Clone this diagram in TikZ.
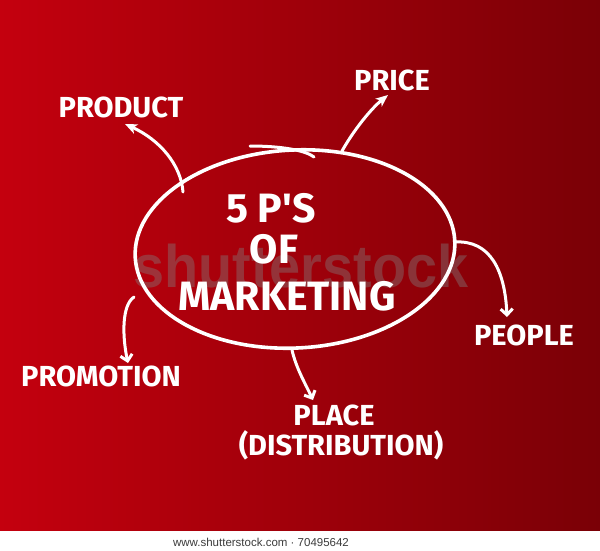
\documentclass[tikz,border=0pt]{standalone}
\usepackage{fontspec}
\setmainfont{Fira Sans}
\newfontfamily\wmfont{Liberation Sans}
\usetikzlibrary{arrows.meta}
\definecolor{redL}{RGB}{196,0,14}
\definecolor{redR}{RGB}{122,0,6}
\definecolor{foot}{RGB}{60,60,60}
\begin{document}
\begin{tikzpicture}[x=1pt,y=-1pt,
  lbl/.style={text=white, font=\bfseries\fontsize{29}{31}\selectfont, inner sep=0pt, anchor=base},
  big/.style={text=white, font=\bfseries\fontsize{41}{44}\selectfont, inner sep=0pt, anchor=base},
  stroke/.style={white, line width=3pt, line cap=round, line join=round},
  arr/.style={stroke, -{Straight Barb[length=6pt,width=12pt]}},
  arrf/.style={stroke, -{Stealth[length=12pt,width=10pt,inset=3pt]}}]
\useasboundingbox (0,0) rectangle (600,550);
\fill[white] (0,0) rectangle (600,550);
\shade[left color=redL, right color=redR] (0,0) rectangle (600,530);

% watermark
\node[inner sep=0pt, anchor=base, text=gray, opacity=0.4, font=\wmfont\bfseries\fontsize{60}{64}\selectfont, xscale=0.93] (wm) at (301,287) {shutterstock};

% central oval
\draw[stroke, line width=3.6pt, rotate around={3:(295,249)}] (295,249) ellipse [x radius=160, y radius=99];
\draw[stroke] (250,146) .. controls (280,146) and (305,150) .. (314,157);

\node[big] (t1) at (271,222) {5 P\textquotesingle S};
\node[big] (t2) at (274,263) {OF};
\node[big] (t3) at (287,310) {MARKETING};

% labels
\node[lbl] (product) at (121,117) {PRODUCT};
\node[lbl] (price) at (392,90) {PRICE};
\node[lbl] (people) at (524,345) {PEOPLE};
\node[lbl] (promotion) at (101,386) {PROMOTION};
\node[lbl] (place) at (334,425) {PLACE};
\node[lbl] (distribution) at (341,455) {(DISTRIBUTION)};

% arrow anchors
\coordinate (prodS) at (183,192);
\coordinate (prodE) at (125,124);
\coordinate (priceS) at (342,151);
\coordinate (priceE) at (388,95);
\coordinate (peopS) at (455,242);
\coordinate (peopE) at (507,317);
\coordinate (placS) at (292,350);
\coordinate (placE) at (313,400);
\coordinate (promS) at (134,297);
\coordinate (promE) at (128,363);

\draw[arrf] (prodS) .. controls (181,165) and (160,140) .. (prodE);
\draw[arrf] (priceS) .. controls (355,128) and (372,108) .. (priceE);
\draw[arr] (peopS) .. controls (490,240) and (505,270) .. (peopE);
\draw[arr] (placS) .. controls (296,368) and (306,385) .. (placE);
\draw[arr] (promS) .. controls (122,305) and (122,335) .. (promE);

% footer
\node[inner sep=0pt, anchor=base, text=foot, font=\wmfont\fontsize{11.5}{13}\selectfont] (footer) at (261,546) {www.shutterstock.com · 70495642};
\end{tikzpicture}
\end{document}
